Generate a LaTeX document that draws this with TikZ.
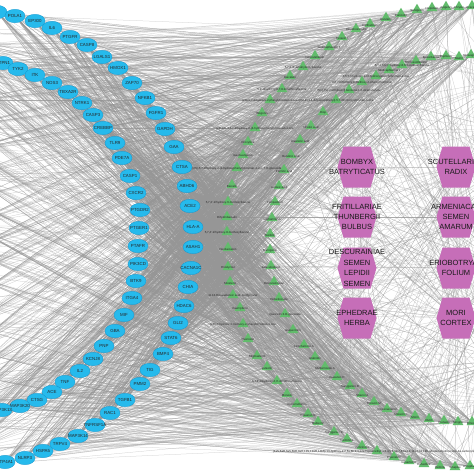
\documentclass[tikz,border=0pt]{standalone}
\usepackage{fontspec}
\setmainfont{Liberation Sans}
\usetikzlibrary{shapes.geometric}
\pgfdeclarelayer{bg}
\pgfdeclarelayer{edges}
\pgfsetlayers{bg,edges,main}
\definecolor{tblue}{RGB}{38,186,236}
\definecolor{tblueb}{RGB}{22,152,208}
\definecolor{cgreen}{RGB}{98,188,108}
\definecolor{hpink}{RGB}{198,110,184}
\definecolor{egray}{RGB}{150,150,150}
\tikzset{
  target/.style={ellipse, fill=tblue, draw=tblueb, line width=0.3pt, minimum width=20pt, minimum height=13.5pt, inner sep=0pt, font=\fontsize{4.4}{5}\selectfont, text=black!85},
  compound/.style={regular polygon, regular polygon sides=3, fill=cgreen, draw=none, minimum size=12.5pt, inner sep=0pt},
  clbl/.style={font=\fontsize{2.9}{3}\selectfont, text=black!85, inner sep=0pt},
  herblbl/.style={align=center, font=\fontsize{7.5}{10.4}\selectfont, text=black!90, inner sep=0pt},
  edge/.style={draw=egray, line width=0.25pt, opacity=0.5},
  hexfill/.style={fill=hpink},
}
\begin{document}
\begin{tikzpicture}[x=1pt,y=-1pt]
\useasboundingbox (0,0) rectangle (474,474);
\begin{pgfonlayer}{bg}
\fill[white] (0,0) rectangle (474,474);
\end{pgfonlayer}
% targets, outer arc
\foreach \x/\y/\t [count=\i] in {-3/12/{}, 15/16/POLA1, 35/21/EP300, 52/28/IL6, 70/37/PTGFR, 87/45/CASP8, 102/57/LGALS1, 118/68/HMOX1, 132/83/ZAP70, 145/98/NFKB1, 156/113/FGFR1, 165/129/GAPDH, 174/147/GAA, 182/167/CTSA, 187/186/ABHD6, 190/206/ACE2, 193/227/HLA-A, 193/247/ASAH1, 191/268/CACNA1C, 188/287/CHIA, 184/306/HDAC6, 178/323/GLI2, 171/338/STAT6, 163/354/BMP4, 150/370/TIG, 140/384/PMM2, 125/400/TGFB1, 110/413/RAC1, 95/425/TNFRSF1A, 78/436/MAP3K14, 60/444/TRPV4, 43/451/HSPA5, 25/458/NLRP3, 5/462/PTP4A1}
  {\node[target] (b\i) at (\x,\y) {\makebox[0pt]{\t}};}
% targets, inner arc
\foreach \x/\y/\t [count=\i from 35] in {3/63/PTPN1, 18/69/TYK2, 35/75/ITK, 52/83/NOS3, 68/92/TBXA2R, 82/103/NTRK1, 93/115/CASP3, 103/128/CREBBP, 115/143/TLR9, 122/158/PDE7A, 130/176/CASP1, 136/193/CXCR2, 140/210/PTGDR2, 139/228/PTGER1, 138/246/PTAFR, 138/264/PIK3CD, 136/281/BTK9, 132/298/ITGA4, 124/315/MIF, 115/331/GBA, 104/346/PNP, 93/359/KCNJ8, 80/371/IL2, 65/382/TNF, 52/392/ACE, 37/400/CTSG, 20/406/MAP3K20, 2/410/MAP3K13}
  {\node[target] (b\i) at (\x,\y) {\makebox[0pt]{\t}};}
% connector ends outside the frame (the network goes on to the left)
\foreach \x/\y [count=\i from 63] in {-30/45, -30/75, -30/100, -30/125, -30/150, -30/175, -30/200, -30/225, -30/250, -30/275, -30/300, -30/325, -30/350, -30/375, -30/400, -30/425, -30/450, -60/470, -60/30, -60/60}
  {\coordinate (b\i) at (\x,\y);}
% compounds, outer arc
\foreach \x/\y/\t [count=\i] in {472/6/Acacetin, 459/7/Chrysin, 446/7/Apigenin, 432/8/Hispidulin, 417/10/Salvigenin, 401/14/Panicolin, 386/18/Rivularin, 370/24/Carthamidin, 356/29/Dihydrooroxylin, 342/37/Tenaxin I, 329/47/Skullcapflavone II, 315/56/Isoscutellarein, 303/67/{5,7,2',6'-tetrahydroxyflavone}, 290/76/Baicalein, 282/89/{5,2'-dihydroxy-6,7,8-trimethoxyflavone}, 270/100/{(2S)-5,7-dihydroxy-2-phenylchroman-4-one}, 262/113/Wogonin, 255/128/{(2R,3R)-3,5,7-trihydroxy-2-(4-hydroxyphenyl)chroman-4-one}, 248/142/Oroxylin a, 243/155/Ganhuangenin, 237/168/{(2S)-5,7-dihydroxy-2-(4-hydroxyphenyl)chroman-4-one 7-O-glucoside}, 232/185/Baicalin, 228/202/{5,7,2'-trihydroxy-6-methoxyflavone}, 227/217/Dihydrobaicalin, 227/232/{5,7,4'-trihydroxy-8-methoxyflavone}, 228/248/Neobaicalein, 228/267/Eriodyctiol, 230/282/Sitosterol, 233/295/{11,13-Eicosadienoic acid, methyl ester}, 240/308/Kaempferol, 243/324/{(2R)-7-hydroxy-5-methoxy-2-phenylchroman-4-one}, 248/339/Quercetin, 257/356/Stigmasterol, 267/367/Luteolin, 277/381/{5,7,4'-trihydroxy-6,3'-dimethoxyflavone}, 287/394/Morusin, 297/404/Cyclomulberrin, 308/414/Kuwanon G, 318/422/Mulberrin, 334/432/Sanggenon C, 347/439/Peiminine, 362/446/Verticinone, 377/451/{(4aS,6aR,6aS,6bR,8aR,10S,12aR,14bS)-10-hydroxy-2,2,6a,6b,9,9,12a-heptamethyl-1,3,4,5,6,6a,7,8,8a,10,11,12,13,14b-tetradecahydropicene-4a-carboxylic acid}, 394/457/Imperialine, 409/461/Isoverticine, 424/464/Ephedrine, 440/466/Peimine, 455/467/Sinapine, 470/466/Amygdalin}
  {\node[compound] (g\i) at (\x,\y) {};
   \node[clbl] (gl\i) at ([yshift=-1pt]g\i) {\t};}
% compounds, inner arc
\foreach \x/\y/\t [count=\i from 50] in {471/55/Norwogonin, 459/57/Mairin, 446/56/Coptisine, 431/57/Epiberberine, 416/61/Moslosooflavone, 402/65/{5,7,2,5-tetrahydroxy-8,6-dimethoxyflavone}, 389/70/Skullcapflavone I, 376/76/{3,5,7-trihydroxy-2-(4-hydroxyphenyl)chromen-4-one}, 362/82/{5,6,7-trihydroxy-8-methoxy-2-phenylchromone}, 349/90/{Bis[(2S)-2-ethylhexyl] benzene-1,2-dicarboxylate}, 336/100/{(2S)-2-(3,4-dihydroxyphenyl)-5,7-dihydroxychroman-4-one}, 323/112/Diop, 311/126/Ursolic acid, 300/140/Oleanolic acid, 291/155/Betulinic acid, 284/170/Palmitic acid, 279/186/Linoleic acid, 275/202/Campesterol, 272/218/Isorhamnetin, 270/234/Taxifolin, 270/250/Naringenin, 271/266/beta-sitosterol, 274/282/Descurainoside, 279/298/Helveticoside, 285/314/Quercetin 3-O-glucoside, 293/330/Isoquercitrin, 304/345/Licochalcone A, 315/357/Glabridin, 325/367/Mulberroside A, 337/377/Kuwanon H, 350/386/Sanggenon D, 362/394/Albanol A, 374/402/Moracin M, 387/409/Oxyresveratrol, 401/413/Moracin C, 415/416/Morin, 429/419/Rutin, 444/421/Prunasin, 458/422/Sinigrin, 472/422/Emodin}
  {\node[compound] (g\i) at (\x,\y) {};
   \node[clbl] (gl\i) at ([yshift=-1pt]g\i) {\t};}
% herbs
\node[herblbl] (h1) at (357,167) {BOMBYX\\BATRYTICATUS};
\node[herblbl] (h2) at (357,217) {FRITILLARIAE\\THUNBERGII\\BULBUS};
\node[herblbl] (h3) at (357,268) {DESCURAINIAE\\SEMEN\\LEPIDII\\SEMEN};
\node[herblbl] (h4) at (357,318) {EPHEDRAE\\HERBA};
\node[herblbl] (h5) at (456,167) {SCUTELLARIAE\\RADIX};
\node[herblbl] (h6) at (456,217) {ARMENIACAE\\SEMEN\\AMARUM};
\node[herblbl] (h7) at (456,268) {ERIOBOTRYAE\\FOLIUM};
\node[herblbl] (h8) at (456,318) {MORI\\CORTEX};
\foreach \y [count=\i from 9] in {80,130,167,217,268,318,360,400}
  {\coordinate (h\i) at (505,\y);}
% connectors
\begin{pgfonlayer}{edges}
\pgfmathsetseed{4242}
\foreach \g in {1,...,89}{
  \path (g\g); \pgfgetlastxy{\gx}{\gy}
  \foreach \k in {1,...,32}{
    \pgfmathrandominteger{\r}{1}{82}
    \path (b\r); \pgfgetlastxy{\bx}{\by}
    \pgfmathsetmacro\ym{0-(\by)+((250-\bx)/(\gx-\bx))*((\by)-(\gy))}
    \ifdim\ym pt>22pt \ifdim\ym pt<452pt
      \draw[edge] (g\g) -- (b\r);
    \fi\fi
  }
  \foreach \k in {1,...,5}{
    \pgfmathrandominteger{\h}{1}{16}
    \draw[edge] (g\g) -- (h\h.center);
  }
}
\foreach \h in {1,...,8}{
  \fill[hexfill] (h\h.center) ++(-19.5,0) -- ++(6,-20.5) -- ++(27,0) -- ++(6,20.5) -- ++(-6,20.5) -- ++(-27,0) -- cycle;
}
\end{pgfonlayer}
\end{tikzpicture}
\end{document}
